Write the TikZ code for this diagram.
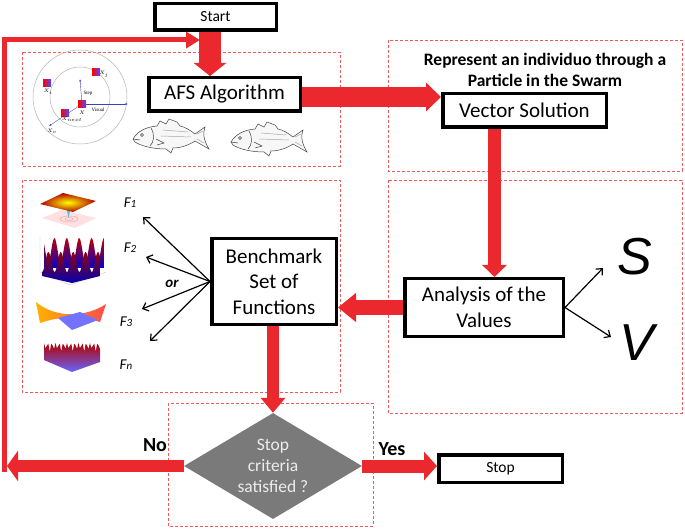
\documentclass[tikz,border=0pt]{standalone}
\usepackage{fontspec}
\setmainfont{Carlito}
\newfontfamily\arialfont{Liberation Sans}
\newfontfamily\seriffont{Liberation Serif}
\usetikzlibrary{arrows.meta, shapes.geometric}
\definecolor{arrred}{RGB}{234,40,46}
\definecolor{panelred}{RGB}{236,90,90}
\definecolor{diagray}{RGB}{122,122,122}

\begin{document}
\begin{tikzpicture}[x = 1pt, y = -1pt,
    box/.style = {draw, line width = 3.5pt, inner sep = 0pt, align = center,
        font = \fontsize{21}{25.5}\selectfont},
    smallbox/.style = {box, font = \fontsize{15.5}{18}\selectfont},
    panel/.style = {draw = panelred, densely dashed, line width = 0.6pt},
    blk/.style = {arrred, line width = #1},
    sarrow/.style = {line width = 1.2pt, -{Straight Barb[length = 5pt, width = 9pt]}},
    flab/.style = {font = \fontsize{15}{17}\selectfont\itshape},
    axlab/.style = {font = \seriffont\fontsize{5}{6}\selectfont, inner sep = 0pt}]
    \useasboundingbox (0,0) rectangle (685,529);

    % dashed panels
    \draw[panel] (22,52) rectangle (340,166);
    \draw[panel] (388,40) rectangle (682,171);
    \draw[panel] (22,180) rectangle (340,392);
    \draw[panel] (388,180) rectangle (682,413);
    \draw[panel] (168,403) rectangle (373,526);

    % boxes
    \node[smallbox, minimum width = 121.5pt, minimum height = 26.5pt] (start) at (215.5,17) {Start};
    \node[box, minimum width = 151.5pt, minimum height = 33.5pt] (afs) at (224.5,94.5) {AFS Algorithm};
    \node[box, minimum width = 163.5pt, minimum height = 33.5pt] (vec) at (524.5,110.5) {Vector Solution};
    \node[box, minimum width = 158.5pt, minimum height = 57.5pt] (ana) at (484,307.5) {Analysis of the\\Values};
    \node[box, minimum width = 124.5pt, minimum height = 85.5pt] (bench) at (274,281.5) {Benchmark\\Set of\\Functions};
    \node[smallbox, minimum width = 123.5pt, minimum height = 27.5pt] (stop) at (500.5,468.5) {Stop};
    \node[shape = diamond, fill = diagray, minimum width = 178pt, minimum height = 106pt,
        inner sep = 0pt, aspect = 1.68, text = gray!15, align = center,
        font = \fontsize{17.5}{21}\selectfont] (dia) at (273,466) {Stop\\criteria\\satisfied ?};

    % texts
    \node[font = \fontsize{17.5}{21}\selectfont\bfseries, align = center] (title) at (545,70)
        {Represent an individuo through a\\Particle in the Swarm};
    \node[font = \arialfont\itshape\fontsize{52}{52}\selectfont] (s) at (635,257) {S};
    \node[font = \arialfont\itshape\fontsize{52}{52}\selectfont] (v) at (637,343) {V};
    \node[font = \fontsize{20}{22}\selectfont\bfseries, anchor = base] (yes) at (392,455) {Yes};
    \node[font = \fontsize{20}{22}\selectfont\bfseries, anchor = base] (no) at (155,451) {No};
    \node[font = \fontsize{15}{17}\selectfont\bfseries\itshape] (or) at (172,284) {or};
    \node[flab] (f1) at (130,203) {F{\fontsize{11}{11}\selectfont 1}};
    \node[flab] (f2) at (130,248) {F{\fontsize{11}{11}\selectfont 2}};
    \node[flab] (f3) at (126,322) {F{\fontsize{11}{11}\selectfont 3}};
    \node[flab] (fn) at (126,365) {F{\fontsize{11}{11}\selectfont n}};

    % block arrows
    \coordinate (c1) at (210,0);
    \coordinate (c2) at (0,97);
    \coordinate (c3) at (494.5,0);
    \coordinate (nt) at (7,0);
    \coordinate (lb) at (4.5,472);
    \coordinate (lt) at (200,40);
    \draw[blk = 22pt, -{Triangle[width = 32pt, length = 13pt]}] (start.south -| c1) -- (afs.north -| c1);
    \draw[blk = 20pt, -{Triangle[width = 28pt, length = 15pt]}] (afs.east |- c2) -- (vec.west |- c2);
    \draw[blk = 13pt, -{Triangle[width = 24pt, length = 12pt]}] (vec.south -| c3) -- (ana.north -| c3);
    \draw[blk = 15pt, -{Triangle[width = 28pt, length = 18pt]}] (ana.west) -- (bench.east |- ana.west);
    \draw[blk = 12pt, -{Triangle[width = 24pt, length = 15pt]}] (bench.south -| dia.north) -- (dia.north);
    \draw[blk = 13pt, -{Triangle[width = 28pt, length = 13pt]}] (dia.east) -- (stop.west |- dia.east);
    \draw[blk = 12pt, -{Triangle[width = 30pt, length = 11pt]}] (dia.west) -- (nt |- dia.west);
    \draw[blk = 5pt, -{Triangle[width = 16pt, length = 14pt]}] (lb) |- (lt);

    % S and V
    \coordinate (sa) at (603,268);
    \coordinate (va) at (611,337);
    \draw[sarrow] (ana.east) -- (sa);
    \draw[sarrow] (ana.east) -- (va);

    % functions
    \foreach \n/\ex/\ey in {1/143/217, 2/146/257, 3/142/309, 4/150/341}
        \coordinate (e\n) at (\ex,\ey);
    \foreach \n in {1,...,4}
        \draw[sarrow] (bench.west) -- (e\n);

    % F1 surface
    \fill[red!12] (42,218) -- (62,210) -- (96,218) -- (75,228) -- cycle;
    \draw[red!40, line width = 0.4pt] (69,219) ellipse (9pt and 3pt) (69,219) ellipse (4pt and 1.5pt);
    \fill[cyan!70] (66,207) -- (68.5,218) -- (71,207) -- cycle;
    \shade[inner color = yellow, outer color = red!70!black] (40,204) -- (63,193) -- (96,201) -- (73,212) -- cycle;
    % F2 surface
    \draw[gray!50, line width = 0.3pt] (40,236) -- (40,272) -- (70,285) -- (106,272);
    \shade[top color = red!75!black, middle color = green!55!black, bottom color = blue!80!black]
        (44,268) -- plot[domain = 44:104, samples = 80] (\x, {250 - 12*cos(29.03*(\x-42))}) -- (104,268) -- cycle;
    \shade[top color = red!60!black, middle color = yellow!60!green, bottom color = blue!70!black]
        (42,276) -- plot[domain = 42:100, samples = 80] (\x, {262 - 10*cos(29.03*(\x-36))}) -- (100,276) -- (72,283) -- cycle;
    % F3 surface
    \shade[left color = yellow!70!red, middle color = cyan!60, right color = red!70]
        (36,302) .. controls (55,318) and (85,318) .. (106,304) -- (100,322) .. controls (80,316) and (60,316) .. (40,323) -- cycle;
    \fill[blue!55] (58,318) -- (80,312) -- (98,320) -- (72,330) -- cycle;
    % Fn surface
    \shade[top color = red!70!black, middle color = green!60!black, bottom color = blue!60]
        (44,360) -- plot[domain = 44:100, samples = 40] (\x, {352 - 9*abs(sin(\x*47))}) -- (100,362) -- (72,372) -- cycle;

    % AFS sketch
    \draw[gray!60, line width = 0.5pt] (80,97) circle (47pt);
    \draw[gray!60, line width = 0.5pt] (80,97) circle (30pt);
    \draw[blue!50!gray, line width = 0.4pt, -{Latex[length = 2.5pt]}] (82,104) -- (80,79);
    \draw[blue!50!gray, line width = 0.4pt, -{Latex[length = 2.5pt]}] (82,104) -- (128,104);
    \draw[blue!50!gray, line width = 0.4pt, -{Latex[length = 2.5pt]}] (82,104) -- (49,126);
    \foreach \ix/\iy in {47/83, 96/72, 82/104, 65/113}
        \shade[left color = red, middle color = yellow, right color = blue!70] (\ix-4,\iy-3.5) rectangle (\ix+4,\iy+3.5);
    \node[axlab] (xi) at (48,92) {$X_i$};
    \node[axlab] (xj) at (104,74) {$X_j$};
    \node[axlab] (xx) at (82,113) {$X$};
    \node[axlab] (xn) at (72,119) {$X_{next}$};
    \node[axlab] (xv) at (52,131) {$X_v$};
    \node[axlab] (stp) at (88,93) {Step};
    \node[axlab] (vis) at (98,110) {Visual};

    % fish
    \foreach \fx/\fy in {133/118, 231/121}
    {
    \begin{scope}[shift = {(\fx,\fy)}, gray!50!black, line width = 0.5pt]
        \draw[fill = gray!6] (0,21) .. controls (4,14) and (12,9) .. (24,8)
            -- (27,3) -- (33,6) -- (36,1) -- (44,4) -- (47,8)
            .. controls (52,9) and (57,12) .. (62,16)
            -- (72,9) .. controls (70,15) and (70,21) .. (76,31) -- (62,23)
            .. controls (56,27) and (48,30) .. (40,30) -- (38,35) -- (33,31)
            .. controls (20,31) and (8,28) .. (2,24) -- cycle;
        \draw (9,17) circle (1.5pt);
        \draw (0,21) -- (7,22);
        \draw (18,10) .. controls (22,17) and (21,24) .. (17,28);
        \draw (23,21) -- (31,25) -- (24,27);
        \draw[gray!70] (30,12) -- (55,14) (28,18) -- (58,19) (64,16) -- (70,13) (64,21) -- (71,25);
    \end{scope}
    }
\end{tikzpicture}
\end{document}
